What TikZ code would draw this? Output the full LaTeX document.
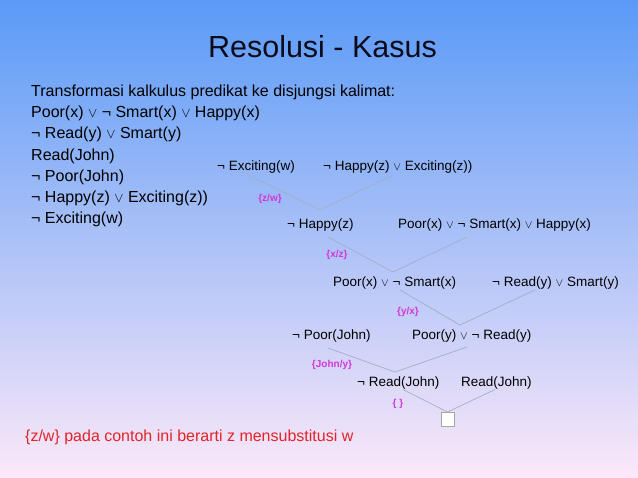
\documentclass[tikz,border=0pt]{standalone}
\usepackage{fontspec}
\setmainfont{Liberation Sans}

\definecolor{bgtop}{HTML}{5A9AF7}
\definecolor{bgmid}{HTML}{A6C8F2}
\definecolor{bgbot}{HTML}{FCE8F8}
\definecolor{titleink}{HTML}{0B0B1A}
\definecolor{substpink}{HTML}{D436D8}
\definecolor{linkgray}{HTML}{9FB0C6}
\definecolor{noteRed}{HTML}{E0242A}

\newcommand{\orsym}{\scalebox{0.8}{$\vee$}}
\newcommand{\negsym}{¬}

\tikzset{
  clause/.style={anchor=base west, inner sep=0pt, font=\fontsize{13.5}{16}\selectfont},
  listline/.style={anchor=base west, inner sep=0pt, font=\fontsize{16}{19}\selectfont},
  subst/.style={inner sep=0pt, text=substpink, font=\fontsize{10}{12}\selectfont\bfseries},
  link/.style={draw=linkgray, line width=0.7pt},
}

\begin{document}
\begin{tikzpicture}[x=1pt,y=-1pt]
                %BACKGROUND
                \shade[top color=bgtop, middle color=bgmid, bottom color=bgbot] (0,0) rectangle (638,478);
                \useasboundingbox (0,0) rectangle (638,478);

                %TITLE
                \node[anchor=base, inner sep=0pt, text=titleink, font=\fontsize{30.5}{36}\selectfont] (title) at (322.5,57.5) {Resolusi - Kasus};

                %LIST
                \node[listline] (l0) at (31,97) {Transformasi kalkulus predikat ke disjungsi kalimat:};
                \node[listline] (l1) at (31,118) {Poor(x) \orsym{} \negsym{} Smart(x) \orsym{} Happy(x)};
                \node[listline] (l2) at (31,139) {\negsym{} Read(y) \orsym{} Smart(y)};
                \node[listline] (l3) at (31,160.5) {Read(John)};
                \node[listline] (l4) at (31,181.5) {\negsym{} Poor(John)};
                \node[listline] (l5) at (31,202.5) {\negsym{} Happy(z) \orsym{} Exciting(z))};
                \node[listline] (l6) at (31,223.5) {\negsym{} Exciting(w)};

                %CLAUSES
                \node[clause] (E1) at (217,170.5) {\negsym{} Exciting(w)};
                \node[clause] (E2) at (323,170.5) {\negsym{} Happy(z) \orsym{} Exciting(z))};
                \node[clause] (H1) at (287,229) {\negsym{} Happy(z)};
                \node[clause] (H2) at (398,229) {Poor(x) \orsym{} \negsym{} Smart(x) \orsym{} Happy(x)};
                \node[clause] (P1) at (333,287) {Poor(x) \orsym{} \negsym{} Smart(x)};
                \node[clause] (P2) at (492,287) {\negsym{} Read(y) \orsym{} Smart(y)};
                \node[clause] (R1) at (292,340) {\negsym{} Poor(John)};
                \node[clause] (R2) at (412,340) {Poor(y) \orsym{} \negsym{} Read(y)};
                \node[clause] (J1) at (357,386.5) {\negsym{} Read(John)};
                \node[clause] (J2) at (461,386.5) {Read(John)};
                \node[draw=gray!70, fill=white, minimum size=13.5pt, inner sep=0pt] (empty) at (447.5,419) {};

                %SUBSTITUTIONS
                \node[subst] (s1) at (270,199) {\{z/w\}};
                \node[subst] (s2) at (337,255) {\{x/z\}};
                \node[subst] (s3) at (408,312) {\{y/x\}};
                \node[subst] (s4) at (332,365) {\{John/y\}};
                \node[subst] (s5) at (398,404) {\{ \}};

                %JOINS
                \coordinate (m1) at (320,210);
                \coordinate (m2) at (393,272);
                \coordinate (m3) at (460,325);
                \coordinate (m4) at (395,372);

                %EDGE
                \draw[link] ([shift={(25,1.5)}]E1.base west) -- (m1);
                \draw[link] ([shift={(70,4.5)}]E2.base west) -- (m1);
                \draw[link] ([shift={(41,8)}]H1.base west) -- (m2);
                \draw[link] ([shift={(69,8)}]H2.base west) -- (m2);
                \draw[link] ([shift={(67,3)}]P1.base west) -- (m3);
                \draw[link] ([shift={(43,3)}]P2.base west) -- (m3);
                \draw[link] ([shift={(36,8)}]R1.base west) -- (m4);
                \draw[link] ([shift={(55,7)}]R2.base west) -- (m4);
                \draw[link] ([shift={(46,3)}]J1.base west) -- (empty.north);
                \draw[link] ([shift={(34,3)}]J2.base west) -- (empty.north);

                %NOTE
                \node[anchor=base west, inner sep=0pt, text=noteRed, font=\fontsize{16}{19}\selectfont] (note) at (25,442) {\{z/w\} pada contoh ini berarti z mensubstitusi w};
            \end{tikzpicture}
\end{document}
